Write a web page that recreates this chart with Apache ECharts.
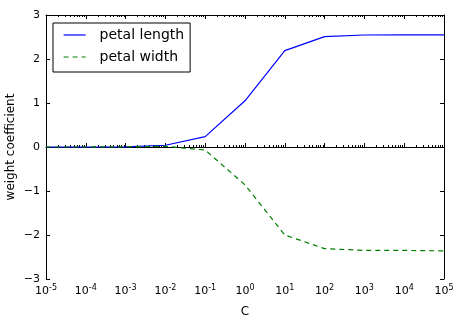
<!DOCTYPE html>
<html>
<head>
<meta charset="utf-8">
<script src="https://cdn.jsdelivr.net/npm/echarts@6/dist/echarts.min.js"></script>
<style>html,body{margin:0;padding:0;background:#fff}#c{width:474px;height:326px}</style>
</head>
<body>
<div id="c"></div>
<script>
var C = [1e-5, 1e-4, 1e-3, 1e-2, 1e-1, 1, 10, 100, 1e3, 1e4, 1e5];
var petalLength = [0.0, 0.0, 0.005, 0.04, 0.235, 1.05, 2.19, 2.51, 2.545, 2.55, 2.55];
var petalWidth = [0.0, 0.0, 0.005, 0.015, -0.07, -0.86, -2.0, -2.31, -2.35, -2.35, -2.36];
var yTicks = [-3, -2, -1, 0, 1, 2, 3];
var minorTicks = [];
for (var k = -5; k < 5; k++) {
  for (var m = 2; m <= 9; m++) minorTicks.push(m * Math.pow(10, k));
}
var font = 'DejaVu Sans';
function pairs(ys) { return C.map(function (c, i) { return [c, ys[i]]; }); }
function xLabel(v) {
  var e = Math.round(Math.log(v) / Math.LN10);
  return '{b|10}{s|' + e + '}';
}
var baseX = {
  type: 'log', logBase: 10, min: 1e-5, max: 1e5, interval: 1,
  splitLine: { show: false }
};
function mk(extra) { return Object.assign({}, baseX, extra); }
var chart = echarts.init(document.getElementById('c'), null, { renderer: 'canvas' });
chart.setOption({
  animation: false,
  textStyle: { fontFamily: font },
  grid: { left: 46, right: 30, top: 15, bottom: 47, containLabel: false, outerBoundsMode: 'none' },
  legend: {
    orient: 'vertical', left: 53, top: 23,
    borderColor: '#000', borderWidth: 1, borderRadius: 0,
    padding: [5, 6, 8, 10],
    itemWidth: 22, itemHeight: 14, itemGap: 8,
    itemStyle: { opacity: 0 },
    lineStyle: { width: 1.2 },
    textStyle: { fontFamily: font, fontSize: 14, color: '#000', padding: [0, 0, 0, 9] },
    data: ['petal length', 'petal width']
  },
  xAxis: [
    mk({
      position: 'bottom', name: 'C', nameLocation: 'middle', nameGap: 27, nameMoveOverlap: false,
      nameTextStyle: { fontFamily: font, fontSize: 12, color: '#000' },
      axisLine: { lineStyle: { color: '#000', width: 1 } },
      axisTick: { inside: true, length: 4, lineStyle: { color: '#000' } },
      axisLabel: {
        formatter: xLabel, margin: 5, color: '#000',
        rich: {
          b: { fontFamily: font, fontSize: 11, color: '#000', verticalAlign: 'bottom', lineHeight: 13 },
          s: { fontFamily: font, fontSize: 8, color: '#000', verticalAlign: 'bottom', lineHeight: 13, padding: [0, 0, 5, 0] }
        }
      }
    }),
    mk({
      position: 'bottom', axisLine: { show: false }, axisLabel: { show: false },
      axisTick: { inside: true, length: 2, customValues: minorTicks, lineStyle: { color: '#000' } }
    }),
    mk({
      position: 'top', axisLine: { lineStyle: { color: '#000', width: 1 } },
      axisLabel: { show: false },
      axisTick: { inside: true, length: 4, lineStyle: { color: '#000' } }
    }),
    mk({
      position: 'top', axisLine: { show: false }, axisLabel: { show: false },
      axisTick: { inside: true, length: 2, customValues: minorTicks, lineStyle: { color: '#000' } }
    })
  ],
  yAxis: [
    {
      type: 'value', min: -3, max: 3, interval: 1, position: 'left',
      name: 'weight coefficient', nameLocation: 'middle', nameGap: 29, nameMoveOverlap: false,
      nameTextStyle: { fontFamily: font, fontSize: 12, color: '#000' },
      axisLine: { show: true, lineStyle: { color: '#000', width: 1 } },
      axisTick: { show: true, inside: true, length: 4, customValues: yTicks, lineStyle: { color: '#000' } },
      axisLabel: {
        fontFamily: font, fontSize: 11, color: '#000', margin: 6,
        formatter: function (v) { return v < 0 ? '\u2212' + (-v) : String(v); }
      },
      splitLine: { show: false }
    },
    {
      type: 'value', min: -3, max: 3, interval: 1, position: 'right',
      axisLine: { show: true, lineStyle: { color: '#000', width: 1 } },
      axisTick: { show: true, inside: true, length: 4, lineStyle: { color: '#000' } },
      axisLabel: { show: false },
      splitLine: { show: false }
    }
  ],
  series: [
    {
      name: 'petal length', type: 'line', xAxisIndex: 0, yAxisIndex: 0,
      data: pairs(petalLength), symbol: 'none', showSymbol: false,
      lineStyle: { color: '#0000ff', width: 1.2 }, itemStyle: { color: '#0000ff' }
    },
    {
      name: 'petal width', type: 'line', xAxisIndex: 0, yAxisIndex: 0,
      data: pairs(petalWidth), symbol: 'none', showSymbol: false,
      lineStyle: { color: '#008000', width: 1.2, type: [5, 4] }, itemStyle: { color: '#008000' }
    }
  ]
});
</script>
</body>
</html>
